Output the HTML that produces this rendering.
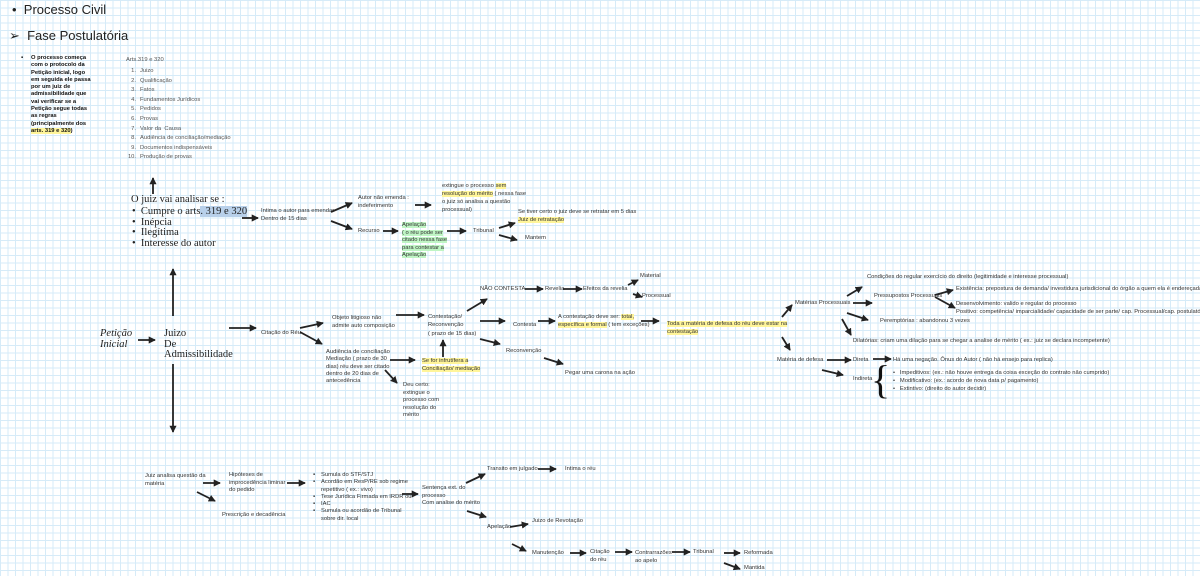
<!DOCTYPE html>
<html><head><meta charset="utf-8"><style>
body{margin:0;width:1200px;height:576px;overflow:hidden;background:#fff;
background-image:linear-gradient(#d6ebf8 1px,transparent 1px),linear-gradient(90deg,#d6ebf8 1px,transparent 1px);background-size:7.5px 7.5px;
font-family:"Liberation Sans",sans-serif;color:#333;position:relative}
.t{position:absolute;font-size:5.8px;line-height:7.5px;white-space:nowrap}
.s{position:absolute;font-family:"Liberation Serif",serif;font-size:10.5px;line-height:10.5px;color:#222;white-space:nowrap}
.y{background:#fff59a}.g{background:#bff5c4}.b{background:#b8d0ea}
svg{position:absolute;left:0;top:0}
</style></head><body>
<div style="position:absolute;left:12px;top:2px;font-size:13px;color:#222">•&nbsp;&nbsp;Processo Civil</div>
<div style="position:absolute;left:9px;top:28px;font-size:13px;color:#222">➢&nbsp;&nbsp;Fase Postulatória</div>
<div class="t" style="left:21px;top:55px;color:#000">▪</div>
<div class="t" style="left:31px;top:55px;font-weight:bold;color:#111;line-height:7.3px"> O processo começa<br>com o protocolo da<br>Petição inicial, logo<br>em seguida ele passa<br>por um juiz de<br>admissibilidade que<br>vai verificar se a<br>Petição segue todas<br>as regras<br>(principalmente dos<br><span class="y">arts. 319 e 320</span>)</div>
<div class="t" style="left:126px;top:57px;color:#555">Arts.319 e 320</div>
<div class="t" style="left:126px;top:67px;color:#555;line-height:9.6px;text-align:right;width:10px">1.<br>2.<br>3.<br>4.<br>5.<br>6.<br>7.<br>8.<br>9.<br>10.</div>
<div class="t" style="left:140px;top:67px;color:#555;line-height:9.6px">Juizo<br>Qualificação<br>Fatos<br>Fundamentos Jurídicos<br>Pedidos<br>Provas<br>Valor da &nbsp;Causa<br>Audiência de conciliação/mediação<br>Documentos indispensáveis<br>Produção de provas</div>

<div class="s" style="left:131px;top:195px">O juiz vai analisar se :</div>
<div class="s" style="left:132px;top:207px">•&nbsp; Cumpre o arts<span class="b">. 319 e 320</span><br>•&nbsp; Inépcia<br>•&nbsp; Ilegítima<br>•&nbsp; Interesse do autor</div>
<div class="t" style="left:261px;top:208px">Intima o autor para emendar<br>Dentro de 15 dias</div>
<div class="t" style="left:358px;top:195px">Autor não emenda :<br>indeferimento</div>
<div class="t" style="left:442px;top:182px;line-height:8px"> extingue o processo <span class="y">sem</span><br><span class="y">resolução do mérito</span> ( nessa fase<br>o juiz só analisa a questão<br>processual)</div>
<div class="t" style="left:358px;top:228px">Recurso</div>
<div class="t" style="left:402px;top:222px"><span class="g">Apelação</span><br><span class="g">( o réu pode ser</span><br><span class="g">citado nessa fase</span><br><span class="g">para contestar a</span><br><span class="g">Apelação</span></div>
<div class="t" style="left:473px;top:228px">Tribunal</div>
<div class="t" style="left:518px;top:209px">Se tiver certo o juiz deve se retratar em 5 dias<br><span class="y">Juiz de retratação</span></div>
<div class="t" style="left:525px;top:235px">Mantem</div>

<div class="s" style="left:100px;top:329px;font-style:italic">Petição<br>Inicial</div>
<div class="s" style="left:164px;top:329px">Juizo<br>De<br>Admissibilidade</div>
<div class="t" style="left:261px;top:330px">Citação do Réu</div>
<div class="t" style="left:332px;top:315px">Objeto litigioso não<br>admite auto composição</div>
<div class="t" style="left:326px;top:349px;line-height:7.3px">Audiência de conciliação<br>Mediação ( prazo de 30<br>dias) réu deve ser citado<br>dentro de 20 dias de<br>antecedência</div>
<div class="t" style="left:403px;top:382px">Deu certo:<br>extingue o<br>processo com<br>resolução do<br>mérito</div>
<div class="t" style="left:428px;top:313px;line-height:8.3px">Contestação/<br>Reconvenção<br>( prazo de 15 dias)</div>
<div class="t" style="left:422px;top:358px"><span class="y">Se for infrutífera a</span><br><span class="y">Conciliação/ mediação</span></div>
<div class="t" style="left:480px;top:286px">NÃO CONTESTA</div>
<div class="t" style="left:545px;top:286px">Revelia</div>
<div class="t" style="left:583px;top:286px">Efeitos da revelia</div>
<div class="t" style="left:640px;top:273px">Material</div>
<div class="t" style="left:642px;top:293px">Processual</div>
<div class="t" style="left:513px;top:322px">Contesta</div>
<div class="t" style="left:558px;top:314px">A contestação deve ser: <span class="y">total,</span><br><span class="y">específica e formal</span> ( tem exceções)</div>
<div class="t" style="left:667px;top:321px"><span class="y">Toda a matéria de defesa do réu deve estar na</span><br><span class="y">contestação</span></div>
<div class="t" style="left:506px;top:348px">Reconvenção</div>
<div class="t" style="left:565px;top:370px">Pegar uma carona na ação</div>
<div class="t" style="left:795px;top:300px">Matérias Processuais</div>
<div class="t" style="left:777px;top:357px">Matéria de defesa</div>
<div class="t" style="left:867px;top:274px">Condições do regular exercício do direito (legitimidade e interesse processual)</div>
<div class="t" style="left:874px;top:293px">Pressupostos Processuais</div>
<div class="t" style="left:956px;top:286px">Existência: prepostura de demanda/ investidura jurisdicional do órgão a quem ela é endereçada</div>
<div class="t" style="left:956px;top:301px">Desenvolvimento: valido e regular do processo<br>Positivo: competência/ imparcialidade/ capacidade de ser parte/ cap. Processual/cap. postulatória</div>
<div class="t" style="left:880px;top:318px">Peremptórias : abandonou 3 vezes</div>
<div class="t" style="left:853px;top:338px">Dilatórias: criam uma dilação para se chegar a analise de mérito ( ex.: juiz se declara incompetente)</div>
<div class="t" style="left:853px;top:357px">Direta</div>
<div class="t" style="left:893px;top:357px">Há uma negação. Ônus do Autor ( não há ensejo para replica)</div>
<div class="t" style="left:853px;top:376px">Indireta</div>
<div style="position:absolute;left:871px;top:360px;font-size:40px;line-height:40px;color:#111;font-family:'Liberation Serif',serif">{</div>
<div class="t" style="left:893px;top:369px;line-height:8px">•&nbsp;&nbsp;&nbsp;Impeditivos: (ex.: não houve entrega da coisa exceção do contrato não cumprido)<br>•&nbsp;&nbsp;&nbsp;Modificativo: (ex.: acordo de nova data p/ pagamento)<br>•&nbsp;&nbsp;&nbsp;Extintivo: (direito do autor decidir)</div>

<div class="t" style="left:145px;top:473px">Juiz analisa questão da<br>matéria</div>
<div class="t" style="left:229px;top:472px">Hipóteses de<br>improcedência liminar<br>do pedido</div>
<div class="t" style="left:222px;top:512px">Prescrição e decadência</div>
<div class="t" style="left:313px;top:472px;line-height:7.3px">▪<br>▪<br><br>▪<br>▪<br>▪</div>
<div class="t" style="left:321px;top:472px;line-height:7.3px">Sumula do STF/STJ<br>Acordão em ResP/RE sob regime<br>repetitivo ( ex.: vivo)<br>Tese Jurídica Firmada em IRDR ou<br>IAC<br>Sumula ou acordão de Tribunal<br>sobre dir. local</div>
<div class="t" style="left:422px;top:485px">Sentença ext. do<br>processo<br>Com analise do mérito</div>
<div class="t" style="left:487px;top:466px">Transito em julgado</div>
<div class="t" style="left:565px;top:466px">Intima o réu</div>
<div class="t" style="left:487px;top:524px">Apelação</div>
<div class="t" style="left:532px;top:518px">Juizo de Revotação</div>
<div class="t" style="left:532px;top:550px">Manutenção</div>
<div class="t" style="left:590px;top:549px">Citação<br>do réu</div>
<div class="t" style="left:635px;top:550px">Contrarrazões<br>ao apelo</div>
<div class="t" style="left:693px;top:549px">Tribunal</div>
<div class="t" style="left:744px;top:550px">Reformada</div>
<div class="t" style="left:744px;top:565px">Mantida</div>

<svg width="1200" height="576" viewBox="0 0 1200 576">
<defs><marker id="a" markerWidth="4" markerHeight="4" refX="3.5" refY="2" orient="auto" markerUnits="strokeWidth"><path d="M0,0L4,2L0,4z" fill="#222"/></marker></defs>
<g stroke="#222" stroke-width="1.8" fill="none" marker-end="url(#a)">
<line x1="153" y1="194" x2="153" y2="178"/>
<line x1="242" y1="218" x2="258" y2="218"/>
<line x1="331" y1="212" x2="352" y2="203"/>
<line x1="331" y1="221" x2="352" y2="229"/>
<line x1="415" y1="205" x2="431" y2="205"/>
<line x1="383" y1="231" x2="398" y2="231"/>
<line x1="447" y1="231" x2="466" y2="231"/>
<line x1="499" y1="228" x2="515" y2="223"/>
<line x1="499" y1="235" x2="517" y2="240"/>
<line x1="173" y1="316" x2="173" y2="269"/>
<line x1="173" y1="364" x2="173" y2="432"/>
<line x1="138" y1="340" x2="155" y2="340"/>
<line x1="229" y1="328" x2="256" y2="328"/>
<line x1="300" y1="328" x2="323" y2="323"/>
<line x1="300" y1="332" x2="322" y2="344"/>
<line x1="396" y1="315" x2="424" y2="315"/>
<line x1="390" y1="360" x2="415" y2="360"/>
<line x1="385" y1="370" x2="397" y2="383"/>
<line x1="443" y1="357" x2="443" y2="340"/>
<line x1="467" y1="311" x2="487" y2="299"/>
<line x1="480" y1="321" x2="505" y2="321"/>
<line x1="480" y1="339" x2="500" y2="344"/>
<line x1="525" y1="289" x2="543" y2="289"/>
<line x1="563" y1="289" x2="582" y2="289"/>
<line x1="628" y1="285" x2="638" y2="280"/>
<line x1="633" y1="294" x2="642" y2="297"/>
<line x1="538" y1="321" x2="555" y2="321"/>
<line x1="641" y1="321" x2="659" y2="321"/>
<line x1="544" y1="358" x2="563" y2="364"/>
<line x1="782" y1="317" x2="792" y2="305"/>
<line x1="782" y1="337" x2="790" y2="350"/>
<line x1="847" y1="296" x2="862" y2="287"/>
<line x1="853" y1="303" x2="872" y2="303"/>
<line x1="935" y1="295" x2="953" y2="290"/>
<line x1="935" y1="297" x2="955" y2="308"/>
<line x1="847" y1="313" x2="868" y2="320"/>
<line x1="842" y1="319" x2="851" y2="335"/>
<line x1="827" y1="360" x2="851" y2="360"/>
<line x1="873" y1="359" x2="891" y2="359"/>
<line x1="822" y1="370" x2="843" y2="375"/>
<line x1="203" y1="483" x2="220" y2="483"/>
<line x1="197" y1="492" x2="215" y2="501"/>
<line x1="287" y1="483" x2="305" y2="483"/>
<line x1="402" y1="494" x2="418" y2="494"/>
<line x1="466" y1="483" x2="485" y2="474"/>
<line x1="538" y1="469" x2="556" y2="469"/>
<line x1="467" y1="511" x2="486" y2="517"/>
<line x1="510" y1="527" x2="528" y2="524"/>
<line x1="512" y1="544" x2="526" y2="551"/>
<line x1="570" y1="553" x2="586" y2="553"/>
<line x1="615" y1="552" x2="632" y2="552"/>
<line x1="672" y1="552" x2="690" y2="552"/>
<line x1="724" y1="553" x2="740" y2="553"/>
<line x1="724" y1="563" x2="740" y2="569"/>
</g></svg>
</body></html>
